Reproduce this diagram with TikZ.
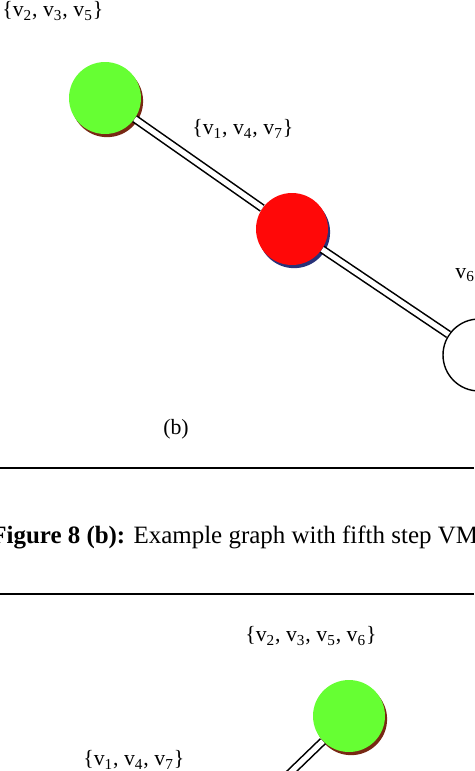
\documentclass[tikz,border=0pt]{standalone}
\usepackage{fontspec}
\setmainfont{Liberation Serif}
\usetikzlibrary{shadows}
\definecolor{vmgreen}{RGB}{102,255,51}
\definecolor{greenshade}{RGB}{120,40,20}
\definecolor{vmred}{RGB}{255,8,8}
\definecolor{redshade}{RGB}{40,50,120}
\newcommand{\vsub}[1]{v\textsubscript{#1}}

\begin{document}
\begin{tikzpicture}[x=0.02cm, y=-0.02cm,
  vm/.style={circle, draw=none, minimum size=1.44cm, inner sep=0pt},
  gshade/.style={drop shadow={shadow xshift=1.2pt, shadow yshift=-1.8pt, fill=greenshade, opacity=1}},
  rshade/.style={drop shadow={shadow xshift=1.2pt, shadow yshift=-1.8pt, fill=redshade, opacity=1}},
  link/.style={draw=black, line width=0.9pt, double=white, double distance=3pt},
  lbl/.style={font=\fontsize{12.4}{14}\selectfont, inner sep=0pt},
  rule/.style={line width=1.1pt},
]
\useasboundingbox (0,0) rectangle (474,771);

% ===== Graph (b) =====
\node[vm, fill=vmgreen, gshade] (g1) at (105,98)  {};
\node[vm, fill=vmred, rshade]   (r1) at (292,229) {};
\node[vm, draw=black, line width=0.8pt, fill=white] (w1) at (479,355) {};
\draw[link] (g1) -- (r1);
\draw[link] (r1) -- (w1);

% --- sets ---
\node[lbl, anchor=west] (s1) at (2,11)    {\{\vsub{2}, \vsub{3}, \vsub{5}\}};
\node[lbl, anchor=west] (s2) at (192,129) {\{\vsub{1}, \vsub{4}, \vsub{7}\}};
\node[lbl, anchor=west] (s3) at (455,275) {\vsub{6}};
\node[lbl] (sub) at (176,429) {(b)};

% ===== Caption =====
\draw[rule] (0,468) -- (474,468);
\node[lbl, font=\fontsize{14.2}{16}\selectfont, anchor=base west] (fig) at (-9,543)
  {\textbf{Figure 8 (b):} Example graph with fifth step VM};
\draw[rule] (0,594) -- (474,594);

% ===== Graph (c) =====
\node[vm, fill=vmgreen, gshade] (g2) at (349,716) {};
\coordinate (r2) at (262,800);
\draw[link] (g2) -- (r2);
\node[lbl, anchor=west] (s4) at (245,636) {\{\vsub{2}, \vsub{3}, \vsub{5}, \vsub{6}\}};
\node[lbl, anchor=west] (s5) at (83,760)  {\{\vsub{1}, \vsub{4}, \vsub{7}\}};
\end{tikzpicture}
\end{document}
